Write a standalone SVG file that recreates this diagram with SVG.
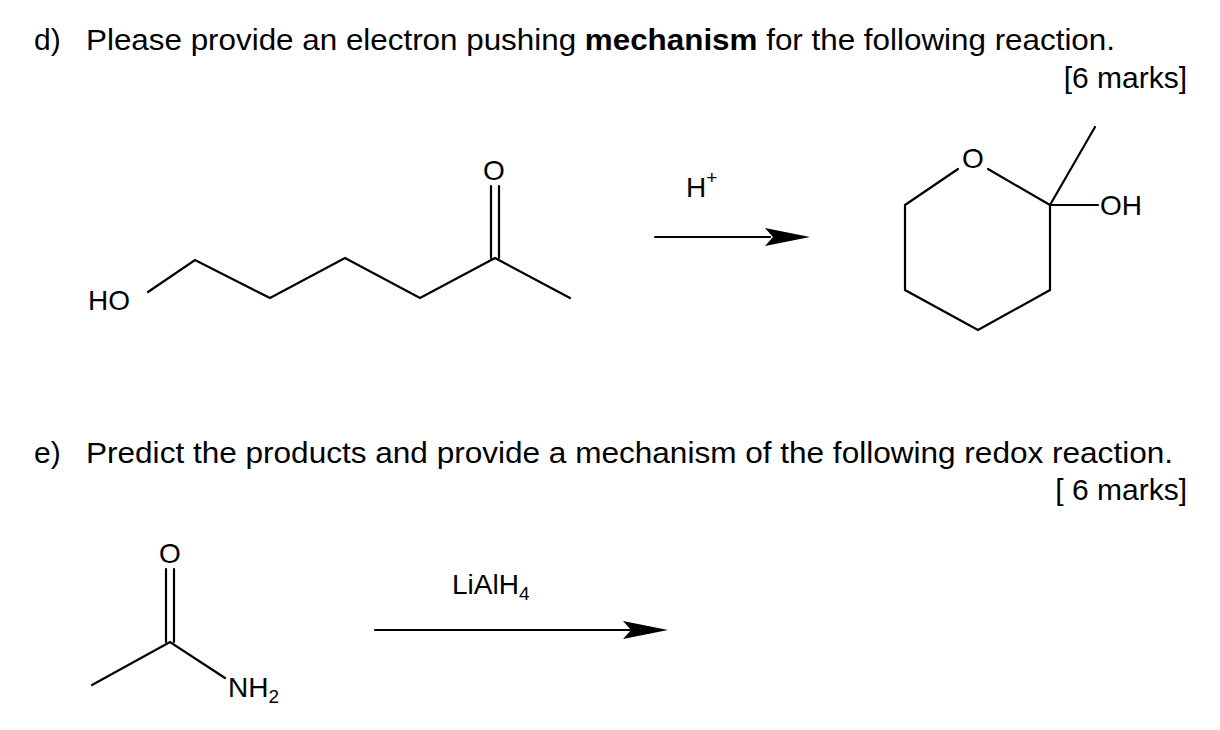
<svg xmlns="http://www.w3.org/2000/svg" width="1220" height="730" viewBox="0 0 1220 730">
<style>
text{font-family:"Liberation Sans",Arial,sans-serif;fill:#000}
.t{font-size:30px}
.a{font-size:28px}
.b{stroke:#000;stroke-width:2.2;fill:none;stroke-linecap:round}
</style>
<rect width="1220" height="730" fill="#fff"/>
<text class="t" x="34" y="50">d)</text>
<text class="t" x="86" y="50" textLength="1029" lengthAdjust="spacingAndGlyphs">Please provide an electron pushing <tspan font-weight="bold">mechanism</tspan> for the following reaction.</text>
<text class="t" x="1187" y="88" text-anchor="end">[6 marks]</text>
<g class="b">
<polyline points="148,292 195,260 270,298 345,258 420,298 495,258 570,298"/>
<line x1="491" y1="258" x2="491" y2="186"/><line x1="499" y1="258" x2="499" y2="186"/>
<line x1="655" y1="237" x2="770" y2="237"/>
<line x1="958" y1="169" x2="905" y2="205"/>
<polyline points="905,205 905,290 978,330 1050,290 1050,205"/>
<line x1="988" y1="169" x2="1050" y2="205"/>
<line x1="1050" y1="205" x2="1095" y2="127"/>
<line x1="1050" y1="205" x2="1098" y2="205"/>
<line x1="166" y1="642" x2="166" y2="569"/><line x1="174" y1="642" x2="174" y2="569"/>
<polyline points="92,685 170,642 225,678"/>
<line x1="375" y1="630" x2="630" y2="630"/>
</g>
<polygon points="810,237 765,228 773,237 765,246"/>
<polygon points="668,630 623,621 631,630 623,639"/>
<text class="a" x="88" y="310">HO</text>
<text class="a" x="494" y="180" text-anchor="middle">O</text>
<text class="a" x="686" y="197">H<tspan font-size="19" dy="-13">+</tspan></text>
<text class="a" x="973" y="168" text-anchor="middle">O</text>
<text class="a" x="1100" y="215">OH</text>
<text class="t" x="34" y="463">e)</text>
<text class="t" x="86" y="463" textLength="1087" lengthAdjust="spacingAndGlyphs">Predict the products and provide a mechanism of the following redox reaction.</text>
<text class="t" x="1187" y="500" text-anchor="end">[ 6 marks]</text>
<text class="a" x="170" y="563" text-anchor="middle">O</text>
<text class="a" x="228" y="697">NH<tspan font-size="19" dy="6">2</tspan></text>
<text class="a" x="452" y="594">LiAlH<tspan font-size="19" dy="6">4</tspan></text>
</svg>
